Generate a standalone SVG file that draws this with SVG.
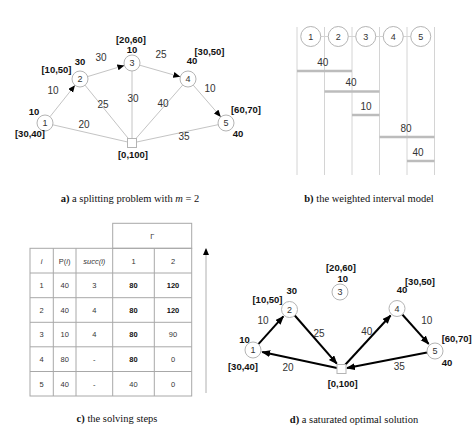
<svg xmlns="http://www.w3.org/2000/svg" width="474" height="439" viewBox="0 0 474 439">
<style>
.bg{fill:#fff}
.e{stroke:#c4c4c4;stroke-width:1;fill:none}
.ed{stroke:#000;stroke-width:2;fill:none}
.nc{fill:#fff;stroke:#b4b4b4;stroke-width:1}
.sq{fill:#fff;stroke:#b4b4b4;stroke-width:1}
.nt{font-family:"Liberation Sans",Arial,sans-serif;font-size:9px;fill:#333;text-anchor:middle}
.lb{font-family:"Liberation Sans",Arial,sans-serif;font-size:9.5px;font-weight:bold;fill:#111;text-anchor:middle}
.el{font-family:"Liberation Sans",Arial,sans-serif;font-size:10px;fill:#333;text-anchor:middle}
.cap{font-family:"Liberation Serif","Times New Roman",serif;font-size:10.5px;fill:#111;text-anchor:middle}
.vl{stroke:#d4d4d4;stroke-width:1}
.bar{stroke:#bcbcbc;stroke-width:2.5}
.grid{stroke:#a8a8a8;stroke-width:1;fill:none}
.tt{font-family:"Liberation Sans",Arial,sans-serif;font-size:7.5px;fill:#333;text-anchor:middle}
.tb{font-family:"Liberation Sans",Arial,sans-serif;font-size:7.5px;font-weight:bold;fill:#111;text-anchor:middle}
.ti{font-style:italic}
</style>
<defs>
<marker id="ma" markerUnits="userSpaceOnUse" markerWidth="8" markerHeight="7" refX="7" refY="3" orient="auto"><path d="M0,0 L7,3 L0,6 z" fill="#000"/></marker>
<marker id="md" markerUnits="userSpaceOnUse" markerWidth="10" markerHeight="8" refX="8" refY="3.5" orient="auto"><path d="M0,0 L9,3.5 L0,7 z" fill="#000"/></marker>
<marker id="mv" markerUnits="userSpaceOnUse" markerWidth="8" markerHeight="8" refX="6" refY="3" orient="auto"><path d="M0,0 L7,3 L0,6 z" fill="#000"/></marker>
</defs>
<rect class="bg" x="0" y="0" width="474" height="439"/>

<!-- Panel a -->
<g id="a-connectors">
<line class="e" x1="45" y1="123" x2="132" y2="143"/>
<line class="e" x1="80" y1="79" x2="132" y2="143"/>
<line class="e" x1="132" y1="63" x2="132" y2="143"/>
<line class="e" x1="188" y1="79" x2="132" y2="143"/>
<line class="e" x1="226" y1="123" x2="132" y2="143"/>
<line class="e" x1="50" y1="116.7" x2="75" y2="85.3" marker-end="url(#ma)"/>
<line class="e" x1="87.6" y1="76.6" x2="124.4" y2="65.4" marker-end="url(#ma)"/>
<line class="e" x1="139.7" y1="65.2" x2="180.3" y2="76.8" marker-end="url(#ma)"/>
<line class="e" x1="193.2" y1="85.1" x2="220.8" y2="116.9" marker-end="url(#ma)"/>
<text class="el" x="53" y="94">10</text>
<text class="el" x="101" y="61">30</text>
<text class="el" x="161" y="58">25</text>
<text class="el" x="210" y="92">10</text>
<text class="el" x="103" y="108">25</text>
<text class="el" x="133" y="102">30</text>
<text class="el" x="163" y="107">40</text>
<text class="el" x="84" y="128">20</text>
<text class="el" x="184" y="140">35</text>
</g>
<g id="a-n1"><circle class="nc" cx="45" cy="123" r="8"/><text class="nt" x="45" y="126">1</text><text class="lb" x="34" y="115">10</text><text class="lb" x="30" y="136.5">[30,40]</text></g>
<g id="a-n2"><circle class="nc" cx="80" cy="79" r="8"/><text class="nt" x="80" y="82">2</text><text class="lb" x="56.5" y="73">[10,50]</text><text class="lb" x="80" y="65">30</text></g>
<g id="a-n3"><circle class="nc" cx="132" cy="63" r="8"/><text class="nt" x="132" y="66">3</text><text class="lb" x="131" y="43">[20,60]</text><text class="lb" x="132" y="53">10</text></g>
<g id="a-n4"><circle class="nc" cx="188" cy="79" r="8"/><text class="nt" x="188" y="82">4</text><text class="lb" x="209.5" y="55">[30,50]</text><text class="lb" x="192" y="64">40</text></g>
<g id="a-n5"><circle class="nc" cx="226" cy="123" r="8"/><text class="nt" x="226" y="126">5</text><text class="lb" x="246" y="113">[60,70]</text><text class="lb" x="238" y="137">40</text></g>
<g id="a-s"><rect class="sq" x="127.5" y="138.5" width="9" height="9"/><text class="lb" x="133" y="158">[0,100]</text></g>
<text class="cap" x="130" y="202"><tspan font-weight="bold">a)</tspan> a splitting problem with <tspan font-style="italic">m</tspan> = 2</text>

<!-- Panel b -->
<g id="b-lines">
<line class="vl" x1="297" y1="27" x2="297" y2="175"/>
<line class="vl" x1="324.5" y1="27" x2="324.5" y2="175"/>
<line class="vl" x1="352" y1="27" x2="352" y2="175"/>
<line class="vl" x1="379.5" y1="27" x2="379.5" y2="175"/>
<line class="vl" x1="407" y1="27" x2="407" y2="175"/>
<line class="vl" x1="434.5" y1="27" x2="434.5" y2="175"/>
<line class="vl" x1="311" y1="36.5" x2="421" y2="36.5"/>
</g>
<g id="b-n1"><circle class="nc" cx="310.75" cy="36.5" r="10"/><text class="nt" x="310.75" y="39.5">1</text></g>
<g id="b-n2"><circle class="nc" cx="338.25" cy="36.5" r="10"/><text class="nt" x="338.25" y="39.5">2</text></g>
<g id="b-n3"><circle class="nc" cx="365.75" cy="36.5" r="10"/><text class="nt" x="365.75" y="39.5">3</text></g>
<g id="b-n4"><circle class="nc" cx="393.25" cy="36.5" r="10"/><text class="nt" x="393.25" y="39.5">4</text></g>
<g id="b-n5"><circle class="nc" cx="420.75" cy="36.5" r="10"/><text class="nt" x="420.75" y="39.5">5</text></g>
<g id="b-bars">
<line class="bar" x1="297" y1="71" x2="352" y2="71"/><text class="el" x="322.7" y="66">40</text>
<line class="bar" x1="324.5" y1="91.5" x2="379.5" y2="91.5"/><text class="el" x="351" y="86">40</text>
<line class="bar" x1="352" y1="115" x2="379.5" y2="115"/><text class="el" x="366" y="110">10</text>
<line class="bar" x1="379.5" y1="137" x2="434.5" y2="137"/><text class="el" x="406" y="132">80</text>
<line class="bar" x1="407" y1="161" x2="434.5" y2="161"/><text class="el" x="418" y="156">40</text>
</g>
<text class="cap" x="369" y="202"><tspan font-weight="bold">b)</tspan> the weighted interval model</text>

<!-- Panel c -->
<g id="c-table">
<rect class="grid" x="112.7" y="223.3" width="79" height="25"/>
<rect class="grid" x="30" y="248.3" width="161.7" height="147.7"/>
<line class="grid" x1="53.3" y1="248.3" x2="53.3" y2="396"/>
<line class="grid" x1="76" y1="248.3" x2="76" y2="396"/>
<line class="grid" x1="112.7" y1="248.3" x2="112.7" y2="396"/>
<line class="grid" x1="154.3" y1="248.3" x2="154.3" y2="396"/>
<line class="grid" x1="30" y1="273" x2="191.7" y2="273"/>
<line class="grid" x1="30" y1="297.7" x2="191.7" y2="297.7"/>
<line class="grid" x1="30" y1="322.3" x2="191.7" y2="322.3"/>
<line class="grid" x1="30" y1="346.8" x2="191.7" y2="346.8"/>
<line class="grid" x1="30" y1="371.5" x2="191.7" y2="371.5"/>
<text class="tt" x="152.2" y="238.5">Γ</text>
<text class="tt ti" x="41.7" y="263.5">i</text>
<text class="tt" x="64.7" y="263.5">P(<tspan class="ti">i</tspan>)</text>
<text class="tt ti" x="94.3" y="263.5">succ(i)</text>
<text class="tt" x="133.5" y="263.5">1</text>
<text class="tt" x="173" y="263.5">2</text>
<text class="tt" x="41.7" y="288">1</text><text class="tt" x="64.7" y="288">40</text><text class="tt" x="94.3" y="288">3</text><text class="tb" x="133.5" y="288">80</text><text class="tb" x="173" y="288">120</text>
<text class="tt" x="41.7" y="312.7">2</text><text class="tt" x="64.7" y="312.7">40</text><text class="tt" x="94.3" y="312.7">4</text><text class="tb" x="133.5" y="312.7">80</text><text class="tb" x="173" y="312.7">120</text>
<text class="tt" x="41.7" y="337.2">3</text><text class="tt" x="64.7" y="337.2">10</text><text class="tt" x="94.3" y="337.2">4</text><text class="tb" x="133.5" y="337.2">80</text><text class="tt" x="173" y="337.2">90</text>
<text class="tt" x="41.7" y="361.8">4</text><text class="tt" x="64.7" y="361.8">80</text><text class="tt" x="94.3" y="361.8">-</text><text class="tb" x="133.5" y="361.8">80</text><text class="tt" x="173" y="361.8">0</text>
<text class="tt" x="41.7" y="386.5">5</text><text class="tt" x="64.7" y="386.5">40</text><text class="tt" x="94.3" y="386.5">-</text><text class="tt" x="133.5" y="386.5">40</text><text class="tt" x="173" y="386.5">0</text>
</g>
<g id="c-arrow"><line x1="206" y1="393" x2="206" y2="249" stroke="#b0b0b0" stroke-width="1" marker-end="url(#mv)"/></g>
<text class="cap" x="117" y="422"><tspan font-weight="bold">c)</tspan> the solving steps</text>

<!-- Panel d -->
<g id="d-connectors">
<line class="ed" x1="258.4" y1="344.1" x2="283.3" y2="316.4" marker-end="url(#md)"/>
<line class="ed" x1="294.8" y1="315.5" x2="336.8" y2="363.7" marker-end="url(#md)"/>
<line class="ed" x1="337" y1="368" x2="262.2" y2="352" marker-end="url(#md)"/>
<line class="ed" x1="345" y1="365" x2="390.6" y2="315.5" marker-end="url(#md)"/>
<line class="ed" x1="402.3" y1="314.5" x2="428.6" y2="343.9" marker-end="url(#md)"/>
<line class="ed" x1="427" y1="352.5" x2="347" y2="368.1" marker-end="url(#md)"/>
<text class="el" x="263" y="323.5">10</text>
<text class="el" x="319" y="336.5">25</text>
<text class="el" x="288" y="370.5">20</text>
<text class="el" x="366.7" y="335">40</text>
<text class="el" x="426.7" y="323.5">10</text>
<text class="el" x="399.3" y="369.5">35</text>
</g>
<g id="d-n1"><circle class="nc" cx="253" cy="350" r="8"/><text class="nt" x="253" y="353">1</text><text class="lb" x="244.5" y="343">10</text><text class="lb" x="243" y="370">[30,40]</text></g>
<g id="d-n2"><circle class="nc" cx="289.5" cy="309.5" r="8"/><text class="nt" x="289.5" y="312.5">2</text><text class="lb" x="267.5" y="302.7">[10,50]</text><text class="lb" x="291.7" y="294">30</text></g>
<g id="d-n3"><circle class="nc" cx="340" cy="292" r="8"/><text class="nt" x="340" y="295">3</text><text class="lb" x="341" y="271">[20,60]</text><text class="lb" x="342.7" y="281.7">10</text></g>
<g id="d-n4"><circle class="nc" cx="397" cy="308.5" r="8"/><text class="nt" x="397" y="311.5">4</text><text class="lb" x="420" y="285">[30,50]</text><text class="lb" x="402" y="293">40</text></g>
<g id="d-n5"><circle class="nc" cx="435" cy="351" r="8"/><text class="nt" x="435" y="354">5</text><text class="lb" x="456.7" y="341.7">[60,70]</text><text class="lb" x="447" y="366">40</text></g>
<g id="d-s"><rect class="sq" x="337" y="364.5" width="9" height="9"/><text class="lb" x="342.7" y="386.7">[0,100]</text></g>
<text class="cap" x="354" y="423"><tspan font-weight="bold">d)</tspan> a saturated optimal solution</text>
</svg>
